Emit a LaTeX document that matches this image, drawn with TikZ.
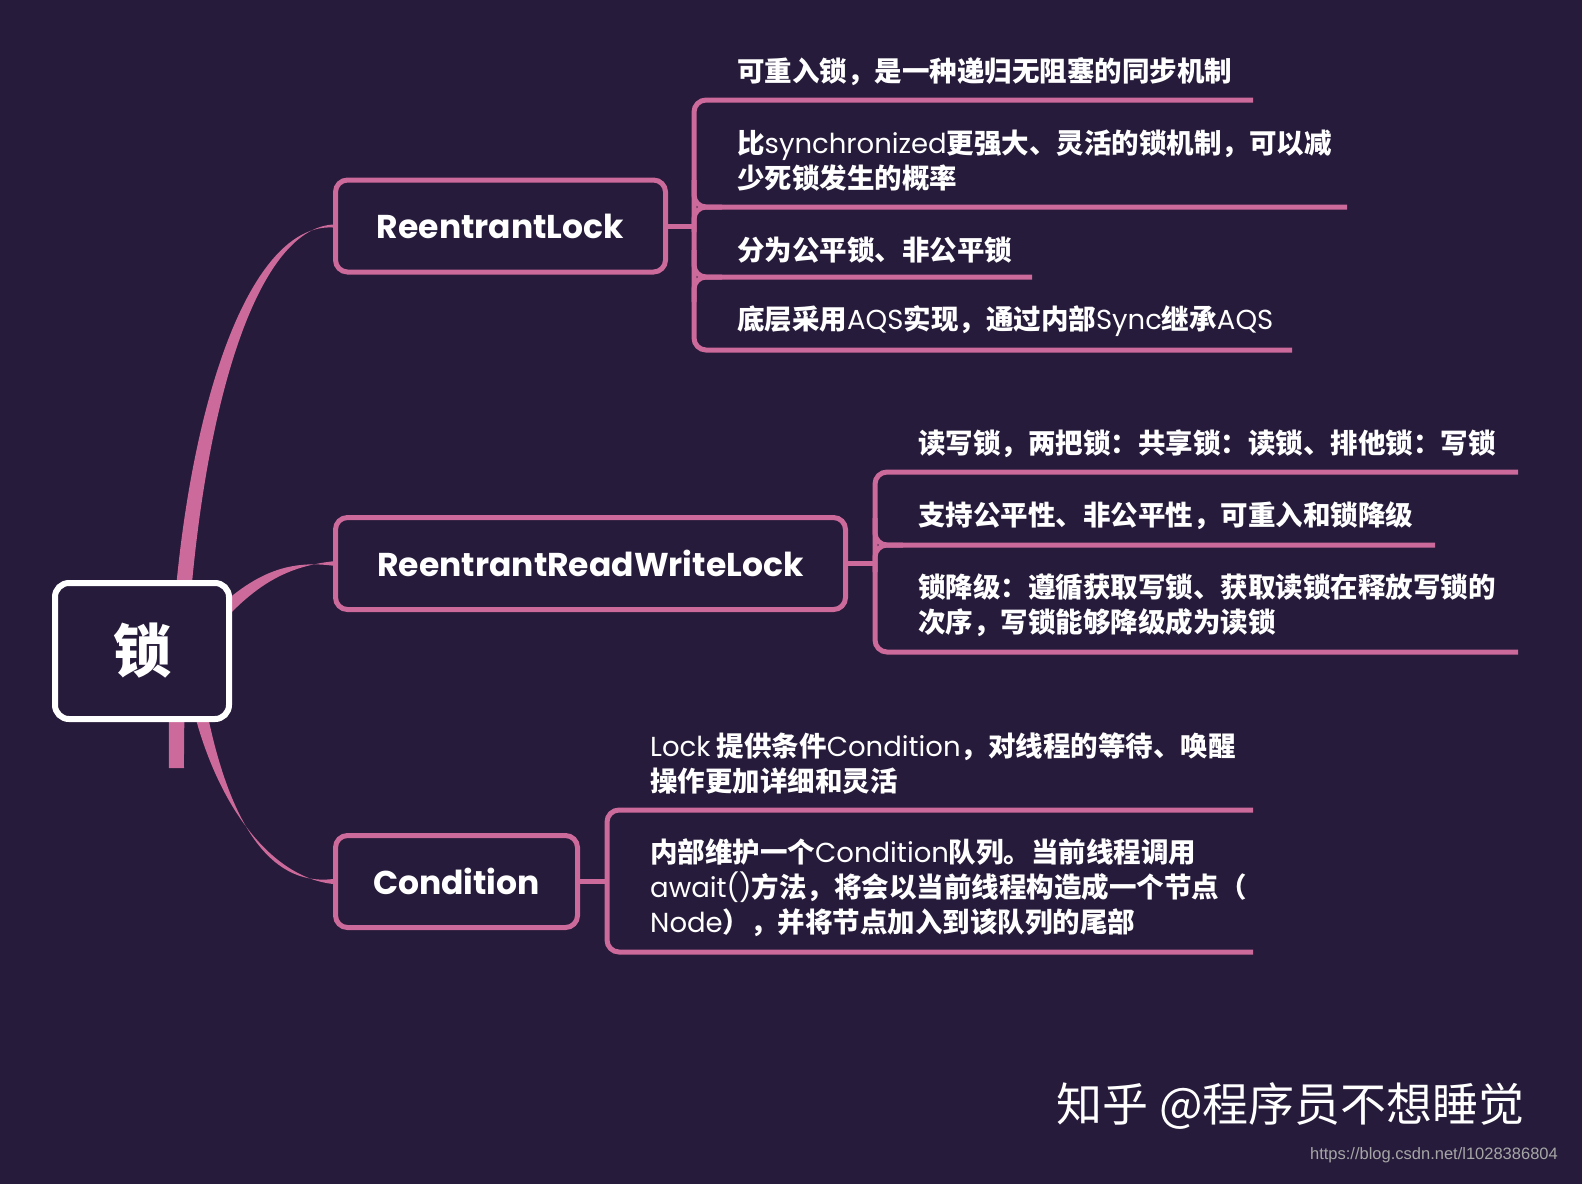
\documentclass[tikz,border=0pt]{standalone}
\usepackage{fontspec}
\setmainfont{Noto Sans CJK SC}
\newfontfamily\cjk{Noto Sans CJK SC}
\newfontfamily\pop{Poppins}
\newfontfamily\arial{Liberation Sans}
\usetikzlibrary{calc}
\definecolor{bg}{HTML}{261B3A}
\definecolor{pk}{HTML}{CC6A9B}
\newcommand\latn[1]{{\pop\mdseries #1}}
\tikzset{
  mainbox/.style={draw=pk, line width=5pt, rounded corners=12pt, fill=bg, text=white,
    minimum height=92pt, inner sep=0pt, font=\pop\bfseries\fontsize{33}{40}\selectfont},
  item/.style={anchor=west, text=white, align=left, inner sep=0pt,
    font=\bfseries\fontsize{27.5}{35}\selectfont},
  branch/.style={draw=pk, line width=5pt},
  bracket/.style={draw=pk, line width=5pt, rounded corners=12pt}
}
\begin{document}
\begin{tikzpicture}[x=1pt,y=-1pt]
\fill[bg] (0,0) rectangle (1582,1184);
\useasboundingbox (0,0) rectangle (1582,1184);

% main boxes
\node[mainbox, minimum width=330pt] (rl) at (500.5,226) {ReentrantLock};
\node[mainbox, minimum width=510pt] (rrwl) at (590.5,563.5) {ReentrantReadWriteLock};
\node[mainbox, minimum width=242pt] (cond) at (456.5,881.5) {Condition};

% trunk and branches (drawn before root so root covers them)
\coordinate (tb) at (177,768);
\fill[pk] ($(tb)+(-8,0)$) .. controls (165,470) and (236,222) .. ([yshift=-1.5pt]rl.west)
  -- ([yshift=1.5pt]rl.west) .. controls (242,230) and (183,480) .. ($(tb)+(7,0)$) -- cycle;
\coordinate (rb) at (222,614);
\fill[pk] ($(rb)+(-2,-8)$) .. controls (258,572) and (290,560) .. ([yshift=-2.2pt]rrwl.west)
  -- ([yshift=2.2pt]rrwl.west) .. controls (292,566) and (262,580) .. ($(rb)+(4,4)$) -- cycle;
\coordinate (cb) at (200,712);
\fill[pk] ($(cb)+(-6,0)$) .. controls (218,805) and (270,877) .. ([yshift=-2.5pt]cond.west)
  -- ([yshift=2.5pt]cond.west) .. controls (266,887) and (228,815) .. ($(cb)+(7,0)$) -- cycle;

% root
\node[draw=white, line width=6pt, rounded corners=14pt, fill=bg, minimum width=174pt,
  minimum height=136pt, text=white, font=\bfseries\fontsize{58}{60}\selectfont] (root) at (142,651) {锁};

% ReentrantLock group
\coordinate (rlv) at (694,226);
\draw[branch] (rl.east) -- (rlv);
\draw[bracket] (1253,100) -- (694,100) -- (694,350) -- (1292,350);
\draw[bracket] (694,180) |- (1347,207);
\draw[bracket] (694,232) |- (722,207);
\draw[bracket] (694,250) |- (1032,277);
\draw[bracket] (694,302) |- (722,277);
\node[item] (t1) at (737,72) {可重入锁，是一种递归无阻塞的同步机制};
\node[item] (t2) at (737,160.5) {比\latn{synchronized}更强大、灵活的锁机制，可以减\\少死锁发生的概率};
\node[item] (t3) at (737,250) {分为公平锁、非公平锁};
\node[item] (t4) at (737,321) {底层采用\latn{AQS}实现，通过内部\latn{Sync}继承\latn{AQS}};

% ReentrantReadWriteLock group
\coordinate (rrv) at (875,563.5);
\draw[branch] (rrwl.east) -- (rrv);
\draw[bracket] (1518,472) -- (875,472) -- (875,652) -- (1518,652);
\draw[bracket] (875,518) |- (1435,545);
\draw[bracket] (875,572) |- (903,545);
\node[item] (s1) at (918,444) {读写锁，两把锁：共享锁：读锁、排他锁：写锁};
\node[item] (s2) at (918,516) {支持公平性、非公平性，可重入和锁降级};
\node[item] (s3) at (918,605.5) {锁降级：遵循获取写锁、获取读锁在释放写锁的\\次序，写锁能够降级成为读锁};

% Condition group
\coordinate (cv) at (607,881.5);
\draw[branch] (cond.east) -- (cv);
\draw[bracket] (1253,810) -- (607,810) -- (607,952) -- (1253,952);
\node[item] (c1) at (650,763.5) {\latn{Lock} 提供条件\latn{Condition}，对线程的等待、唤醒\\操作更加详细和灵活};
\node[item] (c2) at (650,888) {内部维护一个\latn{Condition}队列。当前线程调用\\\latn{await()}方法，将会以当前线程构造成一个节点（\\\latn{Node}），并将节点加入到该队列的尾部};

% watermark
\node[anchor=east, text=white, inner sep=0pt, font=\cjk\fontsize{46}{50}\selectfont] (wm) at (1525,1106) {知乎 @程序员不想睡觉};
\node[anchor=east, text=black!35, inner sep=0pt, font=\arial\fontsize{16.5}{18}\selectfont] (url) at (1558,1155) {https://blog.csdn.net/l1028386804};
\end{tikzpicture}
\end{document}
